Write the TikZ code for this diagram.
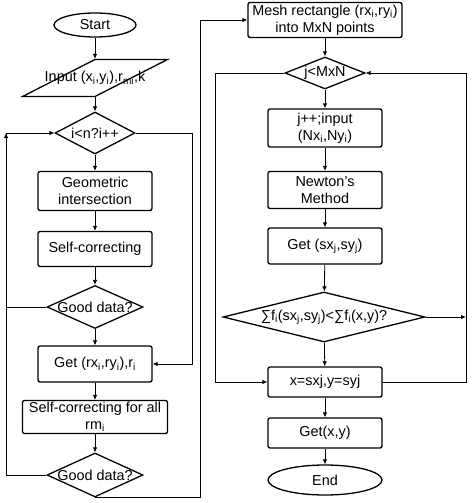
\documentclass[tikz,border=0pt]{standalone}
\usepackage{fontspec}
\setmainfont{Liberation Sans}
\usetikzlibrary{shapes.geometric,arrows.meta}
\begin{document}
\begin{tikzpicture}[x=1pt,y=-1pt,
 font=\fontsize{14.4}{17}\selectfont,
 box/.style={draw,line width=1.3pt,rounded corners=2pt,minimum width=114pt,inner sep=0pt,align=center},
 dec/.style={draw,diamond,line width=1.3pt,inner sep=0pt},
 term/.style={draw,ellipse,line width=1.3pt,inner sep=0pt},
 arr/.style={line width=0.8pt,-{Latex[length=5pt,width=4.5pt]}},
 ln/.style={line width=0.8pt}]
\useasboundingbox (0,0) rectangle (474,503);
% left column
\node[term,minimum width=82pt,minimum height=24pt] (start) at (95,25) {Start};
\node[draw,trapezium,trapezium left angle=53,trapezium right angle=127,trapezium stretches=true,
  minimum width=145pt,minimum height=37pt,line width=1.3pt,inner sep=0pt] (inp) at (95,78)
  {\makebox[0pt]{Input (x\textsubscript{i},y\textsubscript{i}),r\textsubscript{mi},k}};
\node[dec,minimum width=80pt,minimum height=42pt] (id) at (95,133) {\makebox[0pt]{i<n?i++}};
\node[box,minimum height=39pt] (geo) at (95,191) {Geometric\\intersection};
\node[box,minimum height=35pt] (self) at (95,249) {Self-correcting};
\node[dec,minimum width=96pt,minimum height=43pt] (g1) at (95,307) {\makebox[0pt]{Good data?}};
\node[box,minimum height=36pt] (get) at (95,364) {Get (rx\textsubscript{i},ry\textsubscript{i}),r\textsubscript{i}};
\node[box,minimum width=145pt,minimum height=33pt] (sall) at (95,417) {Self-correcting for all\\rm\textsubscript{i}};
\node[dec,minimum width=96pt,minimum height=44pt] (g2) at (95,475) {\makebox[0pt]{Good data?}};
% right column
\node[box,minimum width=154pt,minimum height=35pt] (mesh) at (325,20) {Mesh rectangle (rx\textsubscript{i},ry\textsubscript{i})\\into MxN points};
\node[dec,minimum width=80pt,minimum height=32pt] (jd) at (325,73) {\makebox[0pt]{j<MxN}};
\node[box,minimum height=38pt] (jpp) at (325,128) {j++;input\\(Nx\textsubscript{i},Ny\textsubscript{i})};
\node[box,minimum height=37pt] (newton) at (325,190) {Newton's\\Method};
\node[box,minimum height=36pt] (getsx) at (325,246) {Get (sx\textsubscript{j},sy\textsubscript{j})};
\node[dec,minimum width=202pt,minimum height=50pt] (sum) at (324,317)
  {\makebox[0pt]{∑f\textsubscript{i}(sx\textsubscript{j},sy\textsubscript{j})<∑f\textsubscript{i}(x,y)?}};
\node[box,minimum height=30pt] (xeq) at (325,382) {x=sxj,y=syj};
\node[box,minimum height=30pt] (getxy) at (325,433) {Get(x,y)};
\node[term,minimum width=114pt,minimum height=30pt] (end) at (325,480) {End};
% routing points
\coordinate (L) at (6,133);
\coordinate (R1) at (192,133);
\coordinate (R2) at (200,20);
\coordinate (R3) at (215,73);
\coordinate (R4) at (466,317);
\coordinate (R5) at (466,73);
% vertical flow
\draw[arr] (start) -- (inp);
\draw[arr] (inp) -- (id);
\draw[arr] (id) -- (geo);
\draw[arr] (geo) -- (self);
\draw[arr] (self) -- (g1);
\draw[arr] (g1) -- (get);
\draw[arr] (get) -- (sall);
\draw[arr] (sall) -- (g2);
\draw[arr] (mesh) -- (jd);
\draw[arr] (jd) -- (jpp);
\draw[arr] (jpp) -- (newton);
\draw[arr] (newton) -- (getsx);
\draw[arr] (getsx) -- (sum);
\draw[arr] (sum) -- (xeq);
\draw[arr] (xeq) -- (getxy);
\draw[arr] (getxy) -- (end);
% loops
\draw[arr] (g1.west) -| (L) -- (id.west);
\draw[arr] (g2.west) -| (L);
\draw[arr] (id.east) -- (R1) |- (get.east);
\draw[arr] (g2.south) -| (R2) -- (mesh.west);
\draw[arr] (jd.west) -- (R3) |- (xeq.west);
\draw[arr] (sum.east) -- (R4);
\draw[arr] (xeq.east) -| (R5) -- (jd.east);
\end{tikzpicture}
\end{document}
